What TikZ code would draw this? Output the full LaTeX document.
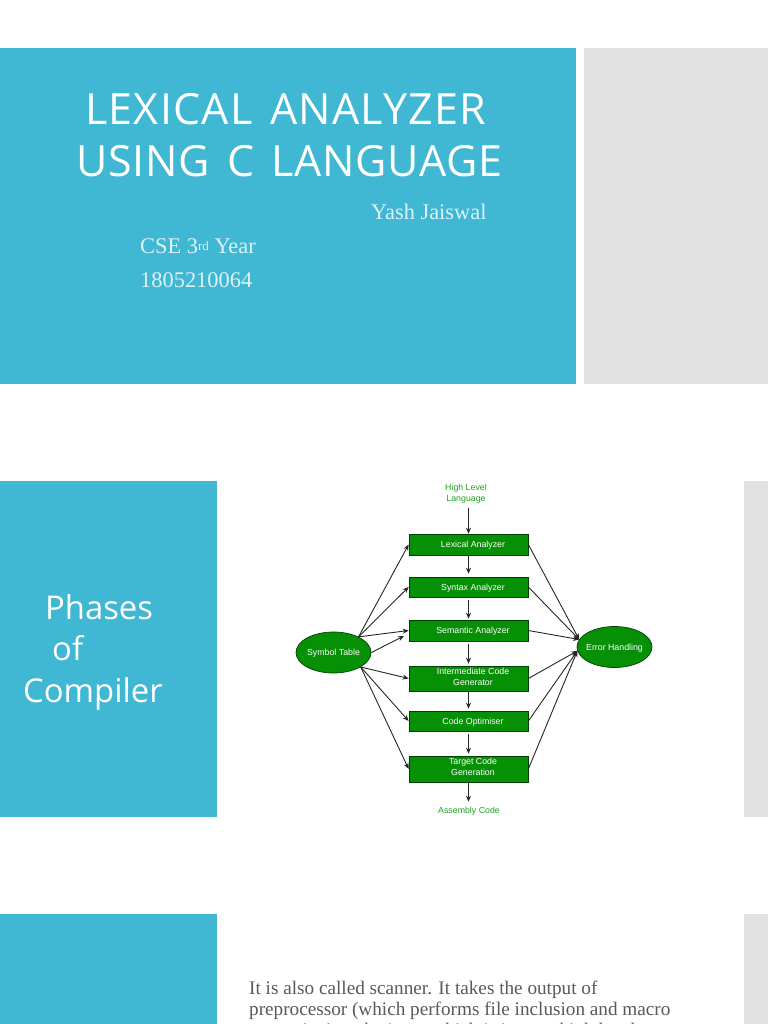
\documentclass[tikz,border=0pt]{standalone}
\usepackage{fontspec}
\usetikzlibrary{shapes.geometric,arrows.meta}
\setmainfont{Liberation Serif}
\setsansfont{Liberation Sans}
\newfontfamily\titlefont[LetterSpace=3,WordSpace=1.4]{Open Sans}
\newfontfamily\titlefontb[LetterSpace=2,WordSpace=1.4]{Open Sans}
\newfontfamily\sidefont{Open Sans}
\definecolor{teal1}{HTML}{40B7D3}
\definecolor{gray1}{HTML}{E2E2E2}
\definecolor{green1}{HTML}{069006}
\definecolor{green2}{HTML}{22A022}
\definecolor{pale1}{HTML}{DDF2F7}
\definecolor{text1}{HTML}{595959}
\begin{document}
\begin{tikzpicture}
[
 x=1pt, y=-1pt,
 inner sep=0pt,
 PANEL/.style={rectangle, fill=teal1, anchor=north west},
 GREY/.style={rectangle, fill=gray1, anchor=north west},
 LBL/.style={align=center, text=white, font=\sffamily\fontsize{8.8}{11}\selectfont},
 BOX/.style={rectangle, draw=green!25!black, fill=green1, line width=.7pt, minimum width=119pt},
 ELL/.style={ellipse, draw=green!25!black, fill=green1, line width=.7pt, minimum width=75pt, minimum height=41pt},
 ONE/.style={label={[LBL, xshift=4.5pt, yshift=-1pt]center:#1}},
 TWO/.style={label={[LBL, xshift=4.5pt, yshift=2pt]center:#1}},
 INL/.style={label={[LBL, yshift=-1pt]center:#1}},
 LAB/.style={align=center, text=green2, font=\sffamily\fontsize{8.8}{11}\selectfont},
 TITLE/.style={anchor=base west, text=white, font=\titlefont\fontsize{43}{50}\selectfont},
 TITLEB/.style={anchor=base west, text=white, font=\titlefontb\fontsize{43}{50}\selectfont},
 SIDE/.style={anchor=base west, text=white, font=\sidefont\fontsize{32.8}{38}\selectfont},
 SUB/.style={anchor=base west, text=pale1, font=\fontsize{22.4}{25}\selectfont},
 BODY/.style={anchor=base west, text=text1, font=\fontsize{19.2}{21}\selectfont},
 ARR/.style={-{Stealth[length=6pt,width=5pt]}, black!85, line width=.9pt}
 ]
\useasboundingbox (0,0) rectangle (768,1024);
\clip (0,0) rectangle (768,1024);
%
\node [PANEL, minimum width=576pt, minimum height=336pt] (P1) at (0,48) {};
\node [GREY,  minimum width=184pt, minimum height=336pt] (G1) at (584,48) {};
\node [PANEL, minimum width=217pt, minimum height=336pt] (P2) at (0,481) {};
\node [GREY,  minimum width=24pt,  minimum height=336pt] (G2) at (744,481) {};
\node [PANEL, minimum width=217pt, minimum height=110pt] (P3) at (0,914) {};
\node [GREY,  minimum width=24pt,  minimum height=110pt] (G3) at (744,914) {};
%
\node [TITLE]  (T1) at (85,125) {LEXICAL ANALYZER};
\node [TITLEB] (T2) at (76,177) {USING C LANGUAGE};
\node [SUB]   (S1) at (371,219) {Yash Jaiswal};
\node [SUB]   (S2) at (140,253) {CSE 3{\fontsize{13}{13}\selectfont\raisebox{2pt}{rd}} Year};
\node [SUB]   (S3) at (140,287) {1805210064};
%
\node [SIDE]  (H1) at (45,619) {Phases};
\node [SIDE]  (H2) at (52,660) {of};
\node [SIDE]  (H3) at (23,702) {Compiler};
%
\node [LAB] (HL)  at (466,493.5) {High Level\\Language};
\node [BOX, minimum height=21pt, ONE={Lexical Analyzer}] (LA) at (468.5,544.5) {};
\node [BOX, minimum height=20pt, ONE={Syntax Analyzer}] (SA) at (468.5,587) {};
\node [BOX, minimum height=21pt, ONE={Semantic Analyzer}] (SE) at (468.5,630.5) {};
\node [BOX, minimum height=25pt, TWO={Intermediate Code\\Generator}] (IC) at (468.5,678.5) {};
\node [BOX, minimum height=20pt, ONE={Code Optimiser}] (CO) at (468.5,721) {};
\node [BOX, minimum height=26pt, TWO={Target Code\\Generation}] (TC) at (468.5,769) {};
\node [LAB] (AC)  at (469,811) {Assembly Code};
\node [ELL, INL={Symbol Table}] (ST)  at (333.5,652.5) {};
\node [ELL, INL={Error Handling}] (EH)  at (614.5,647) {};
\coordinate (SX) at (404,636);
%
\draw [ARR, shorten <=5pt] (HL.south -| LA.north) -- (LA.north);
\draw [ARR, shorten >=3pt] (LA) -- (SA);
\draw [ARR, shorten <=3pt, shorten >=1pt] (SA) -- (SE);
\draw [ARR, shorten <=3pt, shorten >=2pt] (SE) -- (IC);
\draw [ARR, shorten >=2pt] (IC) -- (CO);
\draw [ARR, shorten <=3pt, shorten >=2pt] (CO) -- (TC);
\draw [ARR, shorten >=5pt] (TC.south) -- (TC.south |- AC.north);
%
\draw [ARR] (ST.32) -- (LA.west);
\draw [ARR] (ST.32) -- (SA.west);
\draw [ARR] (ST.32) -- (SE.west);
\draw [ARR] (ST.east)  -- (SX);
\draw [ARR] (ST.-28) -- (IC.west);
\draw [ARR] (ST.-28) -- (CO.west);
\draw [ARR] (ST.-28) -- (TC.west);
%
\draw [ARR] (LA.east) -- (EH.168);
\draw [ARR] (SA.east) -- (EH.168);
\draw [ARR] (SE.east) -- (EH.168);
\draw [ARR] (IC.east) -- (EH.186);
\draw [ARR] (CO.east) -- (EH.186);
\draw [ARR] (TC.east) -- (EH.186);
%
\node [BODY] (B1) at (249,994)  {It is also called scanner. It takes the output of};
\node [BODY] (B2) at (249,1015) {preprocessor (which performs file inclusion and macro};
\node [BODY] (B3) at (249,1036) {expansion) as the input which is in pure high level};
%
\end{tikzpicture}
\end{document}
